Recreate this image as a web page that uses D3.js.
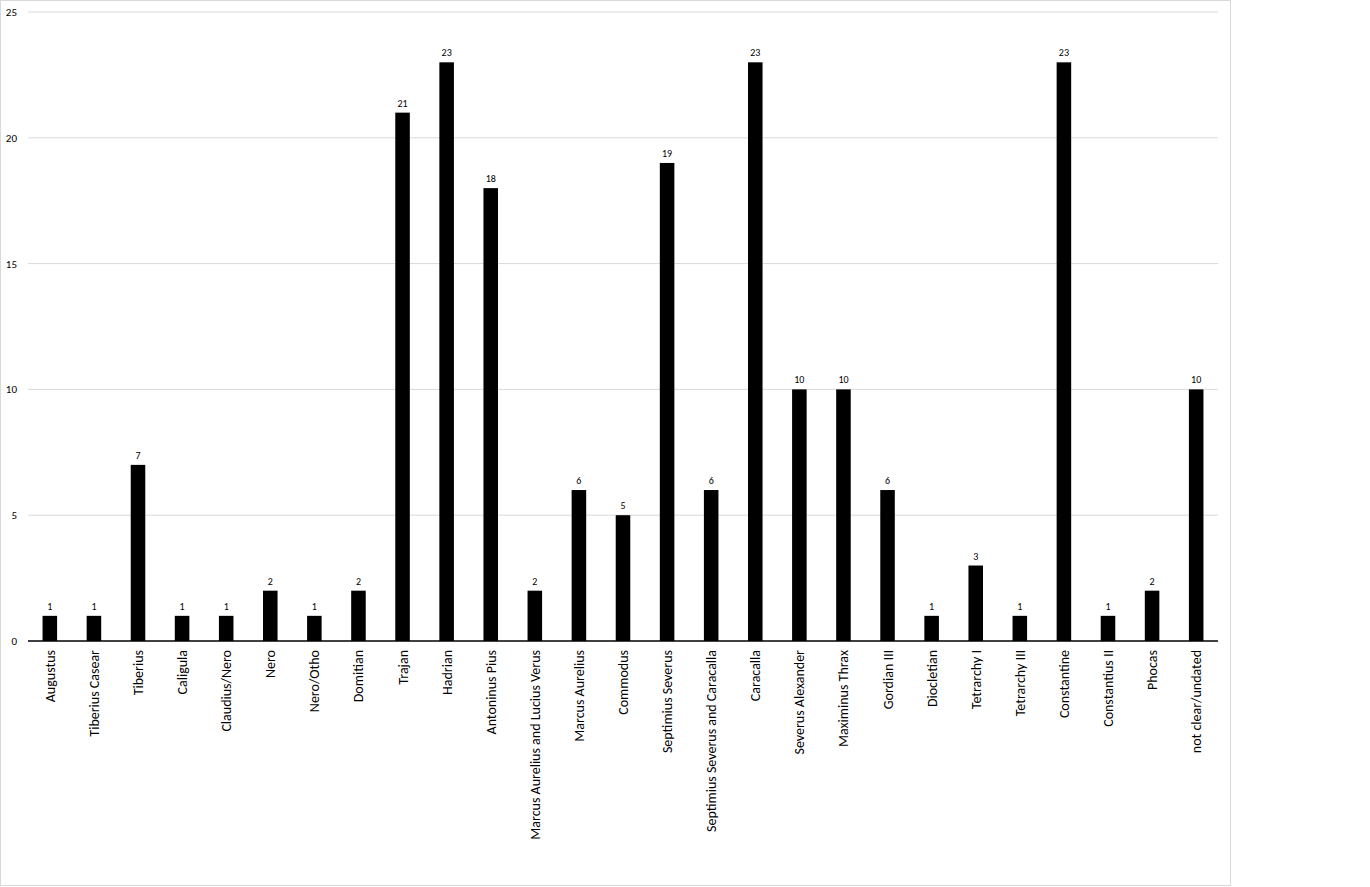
<!DOCTYPE html>
<html><head><meta charset="utf-8">
<script src="https://cdn.jsdelivr.net/npm/d3@7"></script>
<style>body{margin:0;background:#fff}</style>
</head><body>
<svg id="c" width="1370" height="887"></svg>
<script>
// categories and counts
const categories = ["Augustus","Tiberius Casear","Tiberius","Caligula","Claudius/Nero","Nero","Nero/Otho","Domitian","Trajan","Hadrian","Antoninus Pius","Marcus Aurelius and Lucius Verus","Marcus Aurelius","Commodus","Septimius Severus","Septimius Severus and Caracalla","Caracalla","Severus Alexander","Maximinus Thrax","Gordian III","Diocletian","Tetrarchy I","Tetrarchy III","Constantine","Constantius II","Phocas","not clear/undated"];
const counts = [1,1,7,1,1,2,1,2,21,23,18,2,6,5,19,6,23,10,10,6,1,3,1,23,1,2,10];
const yTicks = [0,5,10,15,20,25];

const svg = d3.select("#c");
const font = "Calibri, Carlito, 'Liberation Sans', sans-serif";

svg.append("rect").attr("x",0.5).attr("y",0.5).attr("width",1230).attr("height",885)
  .attr("fill","none").attr("stroke","#d9d9d9");

const x = d3.scaleBand().domain(categories).range([28,1218]).paddingInner(0.67).paddingOuter(0.33);
const y = d3.scaleLinear().domain([0,25]).range([641,12]);

// gridlines
svg.append("g").selectAll("line").data(yTicks.slice(1)).join("line")
  .attr("x1",28).attr("x2",1218).attr("y1",d=>y(d)).attr("y2",d=>y(d))
  .attr("stroke","#d9d9d9");

// y labels
svg.append("g").selectAll("text").data(yTicks).join("text")
  .attr("x",17).attr("y",d=>y(d)+4).attr("text-anchor","end")
  .attr("font-family",font).attr("font-size",11).text(d=>d);

// bars
svg.append("g").selectAll("rect").data(categories).join("rect")
  .attr("x",d=>x(d)).attr("width",x.bandwidth())
  .attr("y",(d,i)=>y(counts[i])).attr("height",(d,i)=>y(0)-y(counts[i]))
  .attr("fill","#000");

// value labels
svg.append("g").selectAll("text").data(categories).join("text")
  .attr("x",d=>x(d)+x.bandwidth()/2).attr("y",(d,i)=>y(counts[i])-6)
  .attr("text-anchor","middle").attr("font-family",font).attr("font-size",10)
  .text((d,i)=>counts[i]);

// baseline
svg.append("line").attr("x1",28).attr("x2",1218).attr("y1",y(0)).attr("y2",y(0))
  .attr("stroke","#000").attr("stroke-width",1.5);

// category labels
svg.append("g").selectAll("text").data(categories).join("text")
  .attr("transform",d=>`translate(${x(d)+x.bandwidth()/2+5},650) rotate(-90)`)
  .attr("text-anchor","end").attr("font-family",font).attr("font-size",14)
  .text(d=>d);
</script>
</body></html>
